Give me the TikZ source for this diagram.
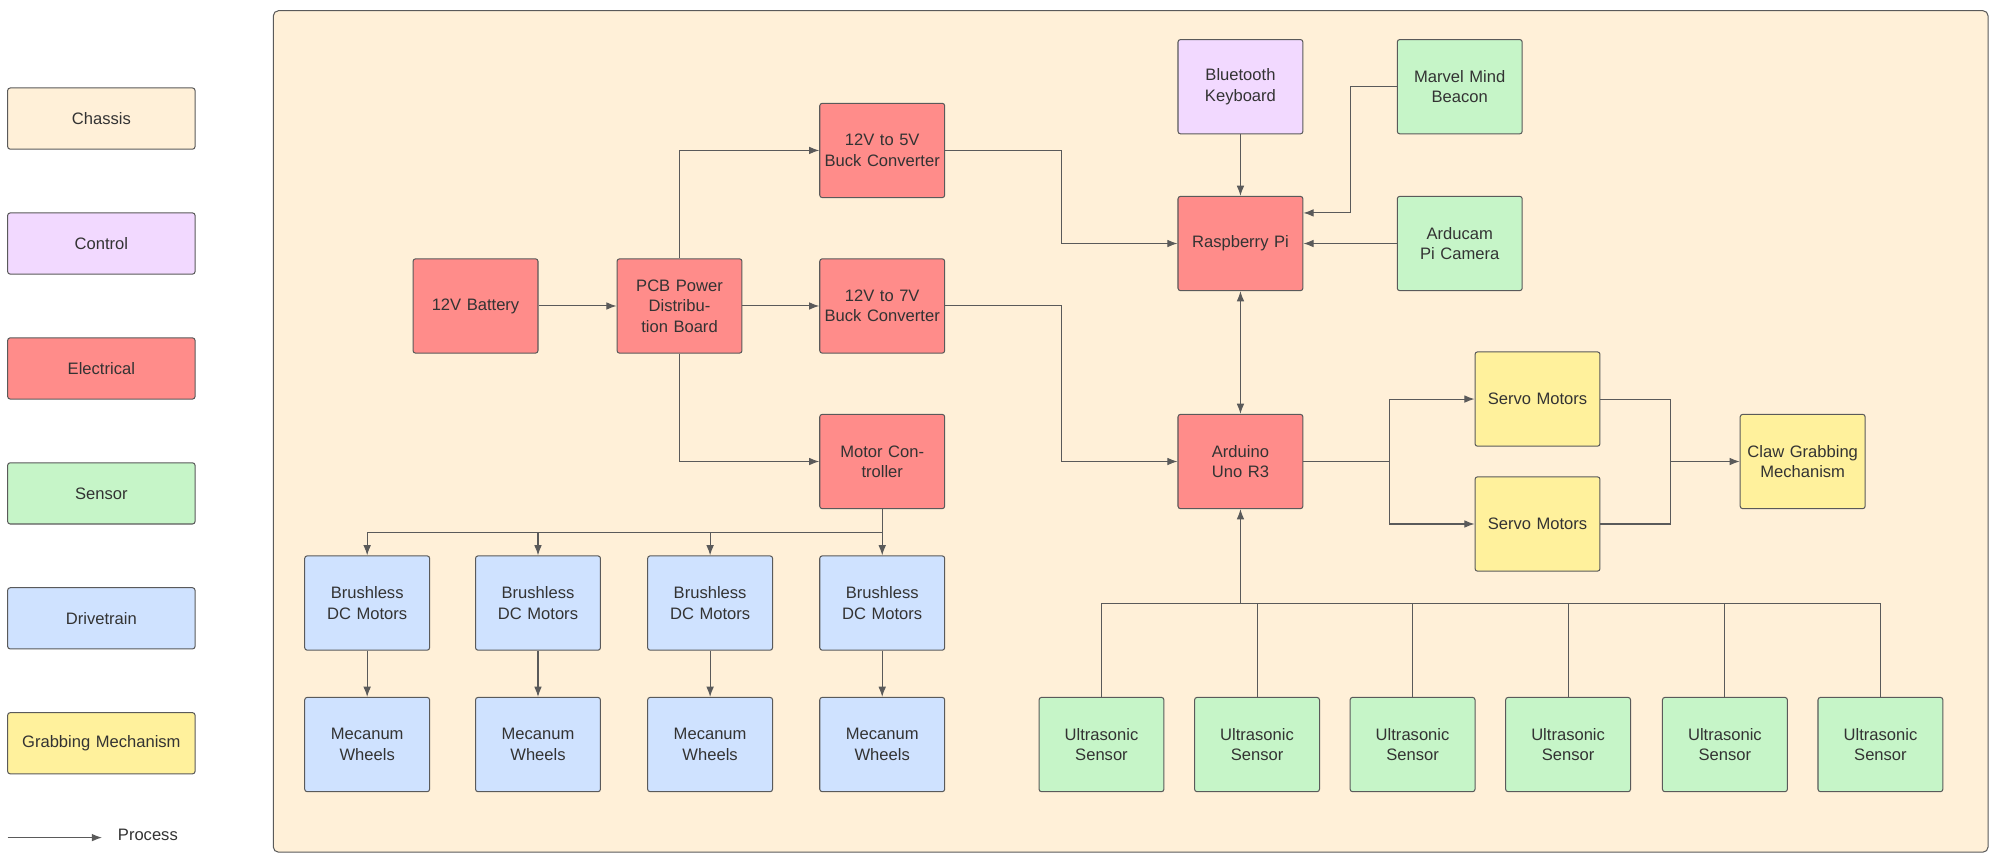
\documentclass[tikz,border=0pt]{standalone}
\usepackage{fontspec}
\setmainfont{Liberation Sans}
\usetikzlibrary{arrows.meta,calc}
\definecolor{chs}{HTML}{FFF0D8}
\definecolor{ctl}{HTML}{F2D9FF}
\definecolor{ele}{HTML}{FF8C8A}
\definecolor{sen}{HTML}{C6F5C8}
\definecolor{drv}{HTML}{CFE2FF}
\definecolor{grb}{HTML}{FFF19C}
\definecolor{edge}{HTML}{5A5A5A}
\definecolor{txt}{HTML}{333333}
\begin{document}
\begin{tikzpicture}[x=0.5pt,y=-0.5pt,
  box/.style={draw=edge,line width=0.4pt,rounded corners=1pt,minimum width=49pt,minimum height=37pt,inner sep=1pt,align=center,text width=46pt,font=\fontsize{6.5}{8}\selectfont,text=txt},
  leg/.style={box,minimum width=73.5pt,minimum height=24pt,text width=70pt},
  ln/.style={draw=edge,line width=0.4pt},
  ar/.style={ln,-{Latex[length=4pt,width=3pt]}}]
\useasboundingbox (0,0) rectangle (1568,677);
\fill[white] (0,0) rectangle (1568,677);
\node[draw=edge,fill=chs,rounded corners=2pt,minimum width=672.5pt,minimum height=330pt,anchor=north west,line width=0.4pt] (frame) at (214,8) {};
% legend
\node[leg,fill=chs] (l1) at (79.5,93) {Chassis};
\node[leg,fill=ctl] (l2) at (79.5,191) {Control};
\node[leg,fill=ele] (l3) at (79.5,289) {Electrical};
\node[leg,fill=sen] (l4) at (79.5,387) {Sensor};
\node[leg,fill=drv] (l5) at (79.5,485) {Drivetrain};
\node[leg,fill=grb] (l6) at (79.5,583) {Grabbing Mechanism};
\coordinate (pa) at (6,657); \coordinate (pb) at (80,657);
\draw[ar] (pa) -- (pb);
\node[font=\fontsize{6.5}{8}\selectfont,text=txt] (pt) at (116,655) {Process};
% nodes
\node[box,fill=ele] (bat) at (373,240) {12V Battery};
\node[box,fill=ele] (pcb) at (533,240) {PCB Power Distribution Board};
\node[box,fill=ele] (b5) at (692,118) {12V to 5V Buck Converter};
\node[box,fill=ele] (b7) at (692,240) {12V to 7V Buck Converter};
\node[box,fill=ele] (mc) at (692,362) {Motor Controller};
\node[box,fill=ctl] (kb) at (973,68) {Bluetooth Keyboard};
\node[box,fill=sen] (mm) at (1145,68) {Marvel Mind Beacon};
\node[box,fill=ele] (rpi) at (973,191) {Raspberry Pi};
\node[box,fill=sen] (cam) at (1145,191) {Arducam Pi Camera};
\node[box,fill=ele] (ard) at (973,362) {Arduino Uno R3};
\node[box,fill=grb] (s1) at (1206,313) {Servo Motors};
\node[box,fill=grb] (s2) at (1206,411) {Servo Motors};
\node[box,fill=grb] (claw) at (1414,362) {Claw Grabbing Mechanism};
\foreach \i/\x in {1/288,2/422,3/557,4/692}{
  \node[box,fill=drv] (bl\i) at (\x,473) {Brushless DC Motors};
  \node[box,fill=drv] (mw\i) at (\x,584) {Mecanum Wheels};
  \draw[ar] (bl\i) -- (mw\i);
  \draw[ar] (mc.south) -- ++(0,18) -| (bl\i.north);
}
\coordinate (ubus) at (973,473);
\foreach \i/\x in {1/864,2/986,3/1108,4/1230,5/1353,6/1475}{
  \node[box,fill=sen] (u\i) at (\x,584) {Ultrasonic Sensor};
  \draw[ln] (u\i.north) |- (ubus);
}
\draw[ar] (ubus) -- (ard.south);
% connectors
\draw[ar] (bat) -- (pcb);
\draw[ar] (pcb) -- (b7);
\draw[ar] (pcb.north) |- (b5.west);
\draw[ar] (pcb.south) |- (mc.west);
\draw[ar] (b5.east) -- ++(91,0) |- (rpi.west);
\draw[ar] (b7.east) -- ++(91,0) |- (ard.west);
\draw[ar] (kb) -- (rpi);
\draw[ar] (mm.west) -- ++(-36,0) |- ([yshift=12pt]rpi.east);
\draw[ar] (cam) -- (rpi);
\draw[ln,{Latex[length=4pt,width=3pt]}-{Latex[length=4pt,width=3pt]}] (rpi) -- (ard);
\coordinate (aj) at (1090,362);
\draw[ln] (ard.east) -- (aj);
\draw[ar] (aj) |- (s1.west);
\draw[ar] (aj) |- (s2.west);
\coordinate (cj) at (1310,362);
\draw[ln] (s1.east) -| (cj);
\draw[ln] (s2.east) -| (cj);
\draw[ar] (cj) -- (claw.west);
\end{tikzpicture}
\end{document}
